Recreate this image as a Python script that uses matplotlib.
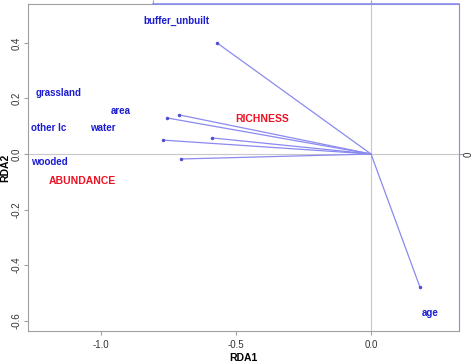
import matplotlib
matplotlib.use("Agg")
import matplotlib.pyplot as plt

# arrow tips (biplot scores)
var_names = ["buffer_unbuilt", "area", "grassland", "water", "other lc", "wooded", "age"]
arrow_x = [-0.570, -0.711, -0.756, -0.589, -0.770, -0.704, 0.181]
arrow_y = [0.400, 0.141, 0.130, 0.058, 0.050, -0.018, -0.479]

# label positions
lab_names = ["buffer_unbuilt", "grassland", "area", "other lc", "water", "wooded", "age"]
lab_x = [-0.722, -1.156, -0.926, -1.193, -0.993, -1.193, 0.219]
lab_y = [0.479, 0.220, 0.155, 0.094, 0.094, -0.029, -0.573]

resp_names = ["RICHNESS", "ABUNDANCE"]
resp_x = [-0.404, -1.07]
resp_y = [0.126, -0.097]

xticks = [-1.0, -0.5, 0.0]
yticks = [-0.6, -0.4, -0.2, 0.0, 0.2, 0.4]

plt.rcParams['font.family'] = ['Liberation Sans', 'DejaVu Sans']

fig = plt.figure(figsize=(4.74, 3.63), dpi=100)
ax = fig.add_axes([28/474, 32/363, 431/474, 327/363])
xmin, xmax = -1.2704, 0.3259
ymin, ymax = -0.6378, 0.5405
ax.set_xlim(xmin, xmax)
ax.set_ylim(ymin, ymax)

grey = "#a0a0a0"
arrow_col = "#8a8af0"
txt_blue = "#1c1cd0"
txt_red = "#ee1122"

# zero lines
ax.axvline(0, color="#c8c8c8", lw=0.8, zorder=1)
ax.axhline(0, color="#c8c8c8", lw=0.8, zorder=1)

for x, y in zip(arrow_x, arrow_y):
    ax.plot([0, x], [0, y], color=arrow_col, lw=0.9, zorder=2)
    ax.plot(x, y, marker="o", ms=1.5, color="#5050d0", zorder=3)

for name, x, y in zip(lab_names, lab_x, lab_y):
    ax.text(x, y, name, color=txt_blue, fontsize=7, fontweight="bold",
            ha="center", va="center")

for name, x, y in zip(resp_names, resp_x, resp_y):
    ax.text(x, y, name, color=txt_red, fontsize=7.5, fontweight="bold",
            ha="center", va="center")

for s in ["left", "bottom", "top"]:
    ax.spines[s].set_color(grey)
ax.spines["right"].set_color(arrow_col)

ax.set_xticks(xticks)
ax.set_xticklabels(["%.1f" % v for v in xticks])
ax.set_yticks(yticks)
ax.set_yticklabels(["%.1f" % v for v in yticks], rotation=90, va="center")
ax.tick_params(colors=grey, labelcolor="#333333", labelsize=7, length=3)
ax.tick_params(axis="y", pad=1.5)

# top axis ticks (arrow scale)
top = ax.secondary_xaxis("top")
top.set_xticks([-0.807, 0.0])
top.set_xticklabels([])
top.tick_params(colors=grey, length=3)
top.spines["top"].set_visible(False)

right = ax.secondary_yaxis("right")
right.set_yticks([0.0])
right.set_yticklabels(["0"], rotation=90, va="center")
right.tick_params(colors=grey, labelcolor="#333333", labelsize=7, length=3, pad=0.5)
right.spines["right"].set_visible(False)

# blue axis line on top for the arrow scale
ax.plot([-0.807, xmax], [ymax, ymax], color=arrow_col, lw=1.2, clip_on=False, zorder=4)

ax.set_xlabel("RDA1", fontsize=7.5, fontweight="bold", labelpad=2)
ax.set_ylabel("RDA2", fontsize=7.5, fontweight="bold")
ax.yaxis.set_label_coords(-0.041, 0.5)

fig.savefig("out.png", dpi=100)
